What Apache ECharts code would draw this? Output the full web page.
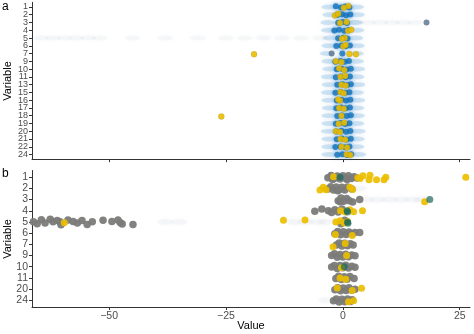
<!DOCTYPE html>
<html>
<head>
<meta charset="utf-8">
<style>
  html, body { margin: 0; padding: 0; background: #fff; }
  #chart { width: 474px; height: 334px; }
</style>
<script src="https://cdn.jsdelivr.net/npm/echarts@6/dist/echarts.min.js"></script>
</head>
<body>
<div id="chart"></div>
<script>
// Row labels for the two strip panels
const labelsA = ['1','2','3','4','5','6','7','9','10','11','13','15','16','17','18','19','20','21','22','24'];
const labelsB = ['1','2','3','4','5','6','7','9','10','11','20','24'];
const xTicks = [-50, -25, 0, 25];

// Panel a: core blue observations per row, [value, row position]
const blueA = [
  [-1.5,-0.08],[-0.4,0.06],[0.5,-0.05],[1.4,0.07],
  [-1.2,1.05],[-0.2,0.94],[0.7,1.06],[1.6,0.96],
  [-1.0,2.04],[0.0,1.95],[0.9,2.05],
  [-1.8,3.02],[-0.8,2.95],[0.3,3.06],[1.2,2.97],
  [-1.0,4.04],[0.1,3.95],[1.0,4.06],
  [-1.4,5.03],[-0.3,4.95],[0.6,5.05],[1.5,4.97],
  [-0.1,6.0],
  [-1.6,7.04],[-0.5,6.95],[0.4,7.06],[1.3,6.96],
  [-1.3,8.03],[-0.2,7.95],[0.8,8.05],[1.7,7.97],
  [-1.5,9.04],[-0.4,8.96],[0.6,9.05],[1.5,8.95],
  [-1.2,10.03],[-0.1,9.95],[0.9,10.05],[1.7,9.96],
  [-1.6,11.04],[-0.5,10.95],[0.5,11.06],[1.4,10.97],
  [-1.3,12.03],[-0.3,11.96],[0.7,12.05],[1.6,11.95],
  [-1.4,13.04],[-0.4,12.95],[0.6,13.05],[1.5,12.96],
  [-1.2,14.03],[-0.2,13.96],[0.8,14.05],[1.7,13.95],
  [-1.5,15.04],[-0.5,14.95],[0.5,15.06],[1.4,14.96],
  [-1.4,16.03],[-0.3,15.95],[0.7,16.05],[1.6,15.97],
  [-1.3,17.04],[-0.2,16.95],[0.8,17.05],[1.7,16.96],
  [-1.6,18.03],[-0.5,17.96],[0.5,18.05],[1.4,17.95],
  [-1.2,19.04],[-0.1,18.95],[0.9,19.05],[1.8,18.96]
];
// Panel a: faint spread of the blue observations around each row
const haloA = [
  [-3.0,0],[2.9,0],
  [-2.8,1],[3.1,1],
  [-3.2,2],[2.6,2],
  [-3.1,3],[3.0,3],
  [-2.7,4],[2.8,4],
  [-3.0,5],[3.1,5],
  [-3.3,6],[2.9,6],
  [-3.0,7],[2.9,7],
  [-2.8,8],[3.2,8],
  [-3.1,9],[3.0,9],
  [-2.9,10],[3.2,10],
  [-3.1,11],[2.9,11],
  [-3.0,12],[3.2,12],
  [-2.9,13],[3.0,13],
  [-3.0,14],[3.1,14],
  [-3.0,15],[3.0,15],
  [-3.1,16],[3.3,16],
  [-3.0,17],[3.1,17],
  [-3.0,18],[3.0,18],
  [-3.0,19],[3.4,19]
];
// Panel a: long faint tails in rows 3 and 5
const tailA = [
  [3,2],[5.5,2],[8,2],[10.5,2],[13,2],[15.5,2],
  [-64.5,4],[-62,4],[-59.5,4],[-57,4],[-54.5,4],[-52,4],
  [-45,4],[-38,4],[-31,4],[-25,4],[-21,4],[-17,4],[-13,4],[-9,4],[-5,4]
];
// Panel a: outlying observations drawn in slate
const slateA = [[17.9,2.0],[-2.4,6.0]];
// Panel a: yellow observations
const yellowA = [
  [1.2,-0.12],[0.2,0.1],
  [-1.7,1.1],[-1.0,0.88],
  [-0.6,2.05],[0.8,1.95],
  [1.1,3.05],[1.8,2.95],
  [0.4,4.0],[-0.2,4.1],
  [0.1,5.05],[0.6,4.9],
  [1.4,6.05],[2.8,6.08],[-19,6.1],
  [-1.5,7.0],[-0.3,7.1],
  [-0.8,7.88],[0.3,8.1],
  [-0.5,9.0],[0.5,8.9],
  [-0.3,10.0],[0.6,10.1],
  [-0.5,10.95],[0.2,11.1],
  [-0.6,12.05],[-1.0,11.9],
  [-0.8,13.0],[0.2,13.1],
  [-0.3,14.0],[-26,14.1],
  [-0.9,15.05],[0.3,14.9],
  [-1.5,16.0],[-0.6,16.1],
  [-0.5,17.0],[0.5,17.1],
  [-0.3,18.0],[0.9,18.1],
  [0.8,19.0],[1.6,19.05]
];

// Panel b: grey observations
const greyB = [
  [-3.2,0.05],[-2.5,-0.15],[-1.8,0.12],[-1.2,-0.1],[-0.6,0.15],[0.0,-0.12],[0.6,0.1],[1.2,-0.14],[1.8,0.12],[2.4,-0.05],[3.0,0.08],[-2.2,0.2],[0.9,0.2],
  [-3.2,1.05],[-2.6,0.85],[-2.0,1.15],[-1.4,0.88],[-0.8,1.12],[-0.2,0.9],[0.4,1.15],[1.0,0.88],[1.9,1.05],[-1.1,1.2],
  [-1.0,2.1],[-0.4,1.85],[0.2,2.15],[0.8,1.9],[1.4,2.1],[2.1,2.22],[3.6,2.0],[-0.6,2.2],
  [-6.0,3.05],[-4.5,2.85],[-3.1,3.0],[-2.4,3.15],[-1.7,2.9],[-1.0,3.1],[-0.2,2.85],
  [-0.4,4.15],[0.4,3.85],[-66.2,3.98],[-65.4,4.17],[-64.5,3.8],[-63.7,4.1],[-62.6,3.75],[-62.0,3.98],
  [-61.1,3.88],[-60.5,3.98],[-60.3,4.25],[-58.8,3.82],[-57.7,3.95],[-56.8,4.1],[-55.8,3.88],[-54.7,4.22],
  [-53.6,3.98],[-51.3,3.85],[-49.4,3.95],[-48.1,3.82],[-47.6,4.08],[-47.2,4.18],[-44.9,4.22],
  [-1.7,5.05],[-1.1,4.85],[-0.5,5.15],[0.1,4.88],[0.7,5.12],[1.3,4.9],[2.0,5.05],[2.6,4.95],[3.6,4.95],
  [-1.4,6.05],[-0.8,5.88],[-0.2,6.15],[0.4,5.9],[1.0,6.12],[1.6,5.95],[2.2,6.05],
  [-2.4,7.0],[-1.8,6.85],[-1.2,7.15],[-0.6,6.9],[0.0,7.12],[0.6,6.88],[1.2,7.1],[1.9,6.95],[2.6,7.02],
  [-2.4,8.02],[-1.8,7.88],[-1.2,8.15],[-0.6,7.9],[0.0,8.1],[0.6,7.86],[1.2,8.12],[1.9,7.95],[2.6,8.05],
  [-1.5,9.05],[-0.9,8.85],[-0.3,9.15],[0.3,8.9],[0.9,9.12],[1.5,8.88],[2.4,9.05],
  [-1.7,10.05],[-1.1,9.88],[-0.5,10.15],[0.1,9.9],[0.7,10.12],[1.3,9.88],[1.9,10.1],[2.6,10.02],
  [-2.0,11.05],[-1.4,10.88],[-0.8,11.15],[-0.2,10.9],[0.4,11.12],[1.0,10.88],[1.6,11.1],[2.0,10.95]
];
// Panel b: yellow observations
const yellowB = [
  [-2.0,-0.05],[3.2,0.05],[3.7,0.12],[4.3,-0.12],[5.8,-0.18],[5.6,0.22],[7.2,0.22],[8.8,0.22],[9.2,0.0],[26.3,0.0],
  [-4.9,1.15],[-4.2,0.9],[-3.6,1.12],[1.5,0.9],[2.1,1.1],
  [17.5,2.2],
  [4.2,3.0],[-0.5,3.0],[0.5,3.12],[1.5,2.9],[2.3,3.08],
  [-12.7,3.85],[-8.1,3.82],[-59.6,4.08],[-1.5,4.0],[-0.6,3.9],[0.3,4.1],[1.0,3.95],
  [-1.6,5.12],[2.0,5.2],
  [-2.1,6.22],[0.5,5.92],
  [0.8,7.0],
  [-0.3,8.1],
  [-0.6,9.0],[0.6,9.12],
  [-1.2,9.9],[2.0,10.12],[4.0,9.92],
  [1.2,11.12],[2.3,11.05]
];
// Panel b: blue observations showing through
const blueB = [[-0.6,0.0],[18.6,2.0],[0.9,3.0],[1.0,3.12],[1.0,4.0],[1.1,4.12],[0.3,8.0]];
// Panel b: faint tails in rows 2, 3 and 5
const tailB = [
  [3.5,1.0],
  [5,2.0],[7.5,2.0],[10,2.0],[12.5,2.0],[15,2.0],[17,2.0],
  [-10.5,4.0],[-8,4.0],[-5.5,4.0],[-3.5,4.0],
  [-38,4.0],[-35,4.0],
  [-3.6,11.0]
];

const FONT = '"Liberation Sans", Arial, sans-serif';
const AXIS = '#333333';
const TICK_TEXT = '#4d4d4d';
const X_MIN = -66.5, X_MAX = 27.2;

// panel a plot box; its row labels sit on a matching category band axis
const A_TOP = 2.3, A_H = 156.9;
const A_STEP = A_H / (labelsA.length + 0.2);

function xAxisFor(gridIndex, showLabels) {
  return {
    type: 'value', gridIndex, min: X_MIN, max: X_MAX,
    splitLine: { show: false },
    axisLine: { show: true, onZero: false, lineStyle: { color: AXIS, width: 1 } },
    axisTick: { show: true, length: 3, customValues: xTicks, lineStyle: { color: AXIS } },
    axisLabel: {
      show: showLabels, customValues: xTicks, margin: 4, hideOverlap: false,
      color: TICK_TEXT, fontSize: 10.5, fontFamily: FONT,
      formatter: v => String(v).replace('-', '\u2212')
    }
  };
}
function yAxisFor(gridIndex, labels, size, showLabels) {
  const idx = labels.map((_, i) => i);
  return {
    type: 'value', gridIndex, inverse: true,
    min: -0.6, max: labels.length - 0.4,
    splitLine: { show: false },
    axisLine: { show: true, onZero: false, lineStyle: { color: AXIS, width: 1 } },
    axisTick: { show: true, length: 3, customValues: idx, lineStyle: { color: AXIS } },
    axisLabel: {
      show: showLabels, customValues: idx, margin: 4, color: TICK_TEXT, fontSize: size,
      fontFamily: FONT, hideOverlap: false,
      formatter: v => labels[Math.round(v)]
    }
  };
}
function pts(name, data, xi, opts) {
  return Object.assign({
    type: 'scatter', name, data, xAxisIndex: xi, yAxisIndex: xi,
    symbol: 'circle', silent: true, animation: false
  }, opts);
}

const chart = echarts.init(document.getElementById('chart'), null, { renderer: 'canvas' });
chart.setOption({
  animation: false,
  grid: [
    { left: 32, right: 4, top: A_TOP, height: A_H },
    { left: 32, right: 4, top: 170.5, height: 136.5 },
    { left: 32, right: 4, top: A_TOP + 0.1 * A_STEP, height: labelsA.length * A_STEP }
  ],
  xAxis: [xAxisFor(0, false), xAxisFor(1, true),
    { type: 'value', gridIndex: 2, show: false }],
  yAxis: [yAxisFor(0, labelsA, 9, false), yAxisFor(1, labelsB, 10.5, true),
    {
      type: 'category', gridIndex: 2, data: labelsA, inverse: true,
      axisLine: { show: false }, axisTick: { show: false }, splitLine: { show: false },
      axisLabel: { interval: 0, margin: 4, color: TICK_TEXT, fontSize: 9, fontFamily: FONT }
    }],
  series: [
    pts('tailA', tailA, 0, { symbolSize: [16, 5], itemStyle: { color: '#9aaabd', opacity: 0.07, shadowBlur: 4, shadowColor: 'rgba(120,140,170,0.5)' } }),
    pts('haloA', haloA, 0, { symbolSize: [15, 5], itemStyle: { color: '#0073C2', opacity: 0.16, shadowBlur: 4, shadowColor: 'rgba(0,115,194,0.6)' } }),
    pts('blueA', blueA, 0, { symbolSize: 6, itemStyle: { color: '#0a6cb8', opacity: 0.75, shadowBlur: 4, shadowColor: 'rgba(0,115,194,0.7)' } }),
    pts('slateA', slateA, 0, { symbolSize: 6, itemStyle: { color: '#55708c', opacity: 0.8 } }),
    pts('yellowA', yellowA, 0, { symbolSize: 6, itemStyle: { color: '#EBBE00', opacity: 0.9, borderColor: 'rgba(120,110,40,0.35)', borderWidth: 0.6 } }),

    pts('tailB', tailB, 1, { symbolSize: [16, 6], itemStyle: { color: '#a0adbf', opacity: 0.08, shadowBlur: 4, shadowColor: 'rgba(120,140,170,0.5)' } }),
    pts('greyB', greyB, 1, { symbolSize: 7.5, itemStyle: { color: '#7b7b79', opacity: 0.95 } }),
    pts('yellowB', yellowB, 1, { symbolSize: 7, itemStyle: { color: '#EBBE00', opacity: 0.92 } }),
    pts('blueB', blueB, 1, { symbolSize: 7, itemStyle: { color: '#1a6a5c', opacity: 0.7 } })
  ],
  graphic: [
    { type: 'text', left: 2, top: 1, style: { text: 'a', font: '12px ' + FONT, fill: '#000' } },
    { type: 'text', left: 2, top: 168, style: { text: 'b', font: '12px ' + FONT, fill: '#000' } },
    { type: 'text', x: 8, y: 81, rotation: Math.PI / 2,
      style: { text: 'Variable', font: '11px ' + FONT, fill: '#000', align: 'center', verticalAlign: 'middle' } },
    { type: 'text', x: 8, y: 239, rotation: Math.PI / 2,
      style: { text: 'Variable', font: '11px ' + FONT, fill: '#000', align: 'center', verticalAlign: 'middle' } },
    { type: 'text', x: 251, y: 326,
      style: { text: 'Value', font: '11px ' + FONT, fill: '#000', align: 'center', verticalAlign: 'middle' } }
  ]
});
</script>
</body>
</html>
